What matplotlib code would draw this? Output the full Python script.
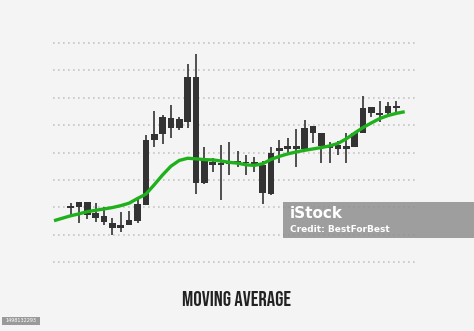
import numpy as np
import matplotlib.pyplot as plt
from matplotlib.patches import Rectangle

# candle data (price units, one gridline = 10)
opens = [20.6, 20.2, 22.0, 18.0, 16.9, 14.4, 13.5, 15.3, 15.1, 20.8,
         44.6, 46.8, 48.8, 48.8, 51.3, 67.7, 37.3, 36.6, 36.3, 36.5,
         36.9, 36.6, 36.6, 35.4, 24.8, 40.7, 41.2, 41.2, 41.2, 47.0,
         47.0, 41.5, 42.7, 41.2, 42.1, 47.2, 54.3, 54.3, 54.3, 56.4]
closes = [19.9, 22.0, 17.2, 16.0, 14.5, 12.3, 12.3, 13.5, 21.2, 44.6,
          46.8, 52.9, 52.5, 52.1, 67.7, 28.7, 28.7, 35.4, 35.4, 35.8,
          36.1, 36.1, 35.8, 25.1, 39.9, 41.5, 42.4, 42.4, 49.1, 49.8,
          42.4, 42.7, 41.2, 42.4, 47.2, 56.1, 56.5, 53.7, 57.0, 57.0]
highs = [21.6, 22.0, 22.0, 21.6, 20.2, 16.1, 18.4, 18.6, 23.4, 46.4,
         55.2, 53.7, 57.4, 53.1, 72.2, 76.0, 42.1, 38.0, 42.7, 43.9,
         40.5, 39.1, 38.5, 37.0, 42.1, 44.6, 45.2, 48.5, 51.9, 49.8,
         47.0, 43.9, 44.3, 47.2, 47.6, 60.7, 56.5, 58.9, 58.6, 58.8]
lows = [17.2, 14.4, 15.7, 14.7, 13.5, 9.9, 11.1, 13.5, 14.1, 20.8,
        42.0, 43.1, 45.3, 48.2, 48.8, 24.8, 28.5, 33.0, 22.6, 31.8,
        34.8, 31.8, 33.0, 21.2, 24.5, 36.3, 39.7, 34.6, 40.9, 43.6,
        36.3, 36.3, 39.1, 36.3, 42.1, 47.2, 52.9, 51.3, 52.9, 54.3]

# moving average, sampled from index -2 to 40
ma_x = list(range(-2, 41))
ma = [15.1, 16.0, 16.9, 17.6, 18.4, 18.9, 19.4, 19.9, 20.6, 21.5,
      23.2, 24.8, 28.2, 31.8, 35.0, 37.1, 37.9, 37.7, 37.4, 37.3,
      36.9, 36.4, 36.1, 35.5, 35.3, 35.9, 37.5, 38.6, 39.5, 40.2,
      40.8, 41.3, 41.8, 42.4, 43.3, 45.0, 47.1, 49.1, 50.8, 52.4,
      53.5, 54.3, 54.9]

grid_levels = [0, 10, 20, 30, 40, 50, 60, 70, 80]

bg = '#f4f4f4'
candle_col = '#333333'
ma_col = '#1fb11b'

fig = plt.figure(figsize=(4.74, 3.31), dpi=100, facecolor=bg)
ax = fig.add_axes([53 / 474, 0.1918, 362 / 474, 0.6949])
ax.set_facecolor(bg)
ax.set_xlim(-2.12, 41.23)
ax.set_ylim(-2, 82)
ax.axis('off')

ax.hlines(grid_levels, -2.12, 41.23, colors='#c4c4c4', linewidth=1.2,
          linestyles=(0, (1, 2)), zorder=0)

w = 0.8
for i in range(len(opens)):
    lo_b = min(opens[i], closes[i])
    hi_b = max(opens[i], closes[i])
    ax.vlines(i, lows[i], highs[i], color=candle_col, linewidth=1.2, zorder=2)
    ax.add_patch(Rectangle((i - w / 2, lo_b), w, max(hi_b - lo_b, 0.5),
                           facecolor=candle_col, edgecolor='none', zorder=2))

ax.plot(ma_x, ma, color=ma_col, linewidth=2.4, solid_capstyle='butt', zorder=3)

fig.text(0.5, 1 - 298.5 / 331, 'MOVING AVERAGE', ha='center', va='center',
         fontsize=15, fontweight='bold', color='#222222',
         family=['Bebas Neue', 'Oswald', 'DejaVu Sans'])

# watermark strip
fig.patches.append(Rectangle((283 / 474, 1 - 238 / 331), (474 - 283) / 474, 36 / 331,
                             transform=fig.transFigure, facecolor='#8f8f8f',
                             edgecolor='none', alpha=0.85, zorder=5))
fig.text(290 / 474, 1 - 213 / 331, 'iStock', fontsize=11, color='white',
         fontweight='bold', va='center', zorder=6)
fig.text(290 / 474, 1 - 230 / 331, 'Credit: BestForBest', fontsize=6.5,
         color='white', fontweight='bold', va='center', zorder=6)
fig.patches.append(Rectangle((2 / 474, 1 - 325 / 331), 38 / 474, 8 / 331,
                             transform=fig.transFigure, facecolor='#9a9a9a',
                             edgecolor='none', zorder=5))
fig.text(21 / 474, 1 - 321 / 331, '1498132293', fontsize=3.5, color='white',
         ha='center', va='center', zorder=6)

fig.savefig('out.png', dpi=100, facecolor=bg)
